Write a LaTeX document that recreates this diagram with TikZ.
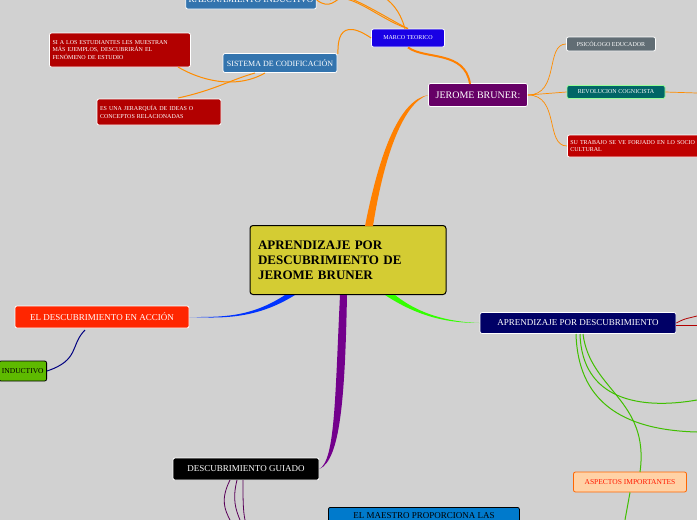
\documentclass[tikz,border=0pt]{standalone}
\usepackage{fontspec}
\setmainfont{Liberation Serif}
\begin{document}
\begin{tikzpicture}[x=1pt,y=-1pt,
  bx/.style={rounded corners=2pt,draw=white,line width=0.8pt,text=white,inner sep=3pt,font=\fontsize{9}{10}\selectfont},
  sm/.style={bx,font=\fontsize{6}{7.5}\selectfont,align=left},
  oc/.style={draw=orange!90!yellow,line width=1pt},
]
\fill[black!18] (0,0) rectangle (697,520);
\useasboundingbox (0,0) rectangle (697,520);
% nodes
\node[bx,fill=cyan!60!blue!80!black,minimum width=119,minimum height=18] (raz) at (251,0) {RAZONAMIENTO INDUCTIVO};
\node[bx,fill=blue!80!violet,font=\fontsize{6}{7}\selectfont,minimum width=73,minimum height=18] (mar) at (408,38) {MARCO TEORICO};
\node[bx,fill=cyan!60!blue!80!black,font=\fontsize{8}{9}\selectfont,minimum width=114,minimum height=19] (sis) at (280,63) {SISTEMA DE CODIFICACIÓN};
\node[sm,fill=red!70!black,text width=135,minimum height=34,align=left] (si) at (120,50) {SI A LOS ESTUDIANTES LES MUESTRAN\\ MÁS EJEMPLOS, DESCUBRIRÁN EL\\ FENÓMENO DE ESTUDIO};
\node[sm,fill=red!70!black,text width=118,minimum height=26] (es) at (159,112) {ES UNA JERARQUÍA DE IDEAS O\\ CONCEPTOS RELACIONADAS};
\node[bx,fill=violet!80!black,font=\fontsize{10}{11}\selectfont,minimum width=99,minimum height=23] (jb) at (478,95) {JEROME BRUNER:};
\node[sm,fill=black!70!cyan!60!gray,minimum width=89,minimum height=14] (psi) at (611,44) {PSICÓLOGO EDUCADOR};
\node[sm,fill=teal!80!black,draw=green!40,minimum width=98,minimum height=13] (rev) at (616,92) {REVOLUCION COGNICISTA};
\node[sm,fill=red!75!black,text width=140,minimum height=22,anchor=west] (su) at (567,146) {SU TRABAJO SE VE FORJADO EN LO SOCIO\\ CULTURAL};
\node[draw=black,line width=1pt,rounded corners=3pt,fill=yellow!80!black!95,minimum width=196,minimum height=69,align=left,font=\fontsize{13}{15}\selectfont\bfseries,text width=180] (c) at (348,260) {APRENDIZAJE POR\\ DESCUBRIMIENTO DE\\ JEROME BRUNER};
\node[bx,fill=orange!30!red,minimum width=174,minimum height=22] (acc) at (102,317) {EL DESCUBRIMIENTO EN ACCIÓN};
\node[bx,draw=black,text=black,fill=green!40!olive!90!yellow,font=\fontsize{7.5}{8.5}\selectfont,minimum height=20,anchor=east] (ind) at (47,371) {INDUCTIVO};
\node[bx,fill=blue!40!black,minimum width=196,minimum height=21] (apd) at (578,323) {APRENDIZAJE POR DESCUBRIMIENTO};
\node[bx,fill=black,minimum width=146,minimum height=22] (gui) at (246,469) {DESCUBRIMIENTO GUIADO};
\node[bx,fill=orange!35!white,draw=orange!80!red,text=red!80!orange,font=\fontsize{7.5}{8.5}\selectfont,minimum width=113,minimum height=20] (asp) at (630,482) {ASPECTOS IMPORTANTES};
\node[rounded corners=2pt,draw=black,line width=0.8pt,fill=blue!40!cyan!80!black,text=black,font=\fontsize{9}{10}\selectfont,minimum width=191,minimum height=30,anchor=north west,align=left,inner sep=3pt] (mae) at (328,507) {\raisebox{3pt}{EL MAESTRO PROPORCIONA LAS}\\~};
% connectors
\fill[orange] (365,226) .. controls (380,150) and (400,100) .. (jb.west) .. controls (405,102) and (385,150) .. (373,226) -- cycle;
\draw[orange,line width=2pt] (mar.south) .. controls (425,60) and (465,50) .. (470,84);
\draw[oc] (mar.north) .. controls (380,20) and (350,-10) .. (330,0);
\draw[oc] (mar.north) .. controls (390,20) and (360,0) .. (340,-5);
\draw[oc] (405,29) .. controls (400,10) and (390,0) .. (380,-5);
\draw[oc] (raz.east) .. controls (330,10) and (335,0) .. (345,-5);
\draw[oc] (mar.west) .. controls (330,10) and (340,60) .. (sis.north east);
\draw[oc] (255,73) .. controls (230,80) and (215,90) .. (178,98);
\draw[oc] (265,73) .. controls (235,90) and (200,80) .. (178,67);
\draw[oc,line width=0.7pt] (jb.east) .. controls (560,95) and (545,44) .. (psi.west);
\draw[oc,line width=0.7pt] (jb.east) -- (rev.west);
\draw[oc,line width=0.7pt] (jb.east) .. controls (560,95) and (545,146) .. (su.west);
\draw[oc,line width=0.7pt] (rev.east) -- (697,93);
\fill[blue!80!cyan] (285,295) .. controls (250,318) and (220,317) .. (acc.east) .. controls (220,318) and (255,320) .. (295,295) -- cycle;
\fill[green!80!yellow] (385,295) .. controls (420,318) and (450,323) .. (apd.west) .. controls (450,322) and (420,315) .. (395,295) -- cycle;
\fill[violet!90!blue] (340,295) .. controls (335,400) and (335,460) .. (gui.east) .. controls (340,460) and (345,400) .. (347,295) -- cycle;
\draw[blue!50!black,line width=1pt] (85,330) .. controls (70,345) and (80,360) .. (ind.east);
\draw[red!70!black,line width=0.8pt] (apd.east) .. controls (685,318) and (690,318) .. (697,316);
\draw[red!70!black,line width=0.8pt] (676,325) -- (697,325);
\draw[green!50!olive,line width=1pt] (576,334) .. controls (578,400) and (620,430) .. (697,432);
\draw[green!50!olive,line width=1pt] (580,334) .. controls (582,400) and (640,410) .. (697,400);
\draw[green!50!olive,line width=1pt] (583,334) .. controls (590,390) and (650,400) .. (640,472);
\draw[green!50!olive,line width=1pt] (asp.south) -- (625,520);
\draw[violet!70!black,line width=0.8pt] (230,480) .. controls (220,500) and (225,510) .. (230,520);
\draw[violet!70!black,line width=0.8pt] (237,480) .. controls (232,500) and (236,510) .. (240,520);
\draw[violet!70!black,line width=0.8pt] (243,480) .. controls (243,500) and (243,510) .. (245,520);
\end{tikzpicture}
\end{document}
